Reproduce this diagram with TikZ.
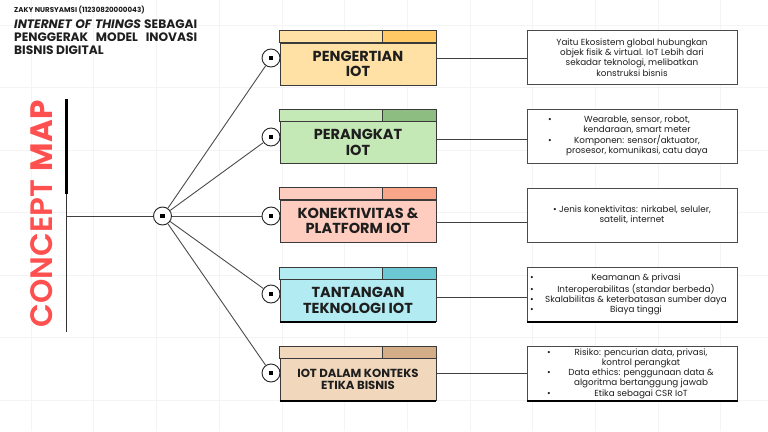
\documentclass[tikz,border=0pt]{standalone}
\usepackage{fontspec}
\setmainfont{Poppins}
\newfontfamily\popsemi{Poppins SemiBold}
\usetikzlibrary{calc}
\definecolor{redc}{HTML}{FF5050}
\definecolor{txt}{HTML}{1E1E1E}
\definecolor{boxline}{HTML}{3A3A3A}
\definecolor{descline}{HTML}{4A4A4A}
\definecolor{gridc}{HTML}{F4F4F4}
\definecolor{fa}{HTML}{FFE1A6}\definecolor{sa}{HTML}{FFC966}
\definecolor{fb}{HTML}{C5E8B7}\definecolor{sb}{HTML}{8DBD80}
\definecolor{fc}{HTML}{FFCDBF}\definecolor{sc}{HTML}{F9A58A}
\definecolor{fd}{HTML}{B2EBF2}\definecolor{sd}{HTML}{6CC8D2}
\definecolor{fe}{HTML}{F1D8BC}\definecolor{se}{HTML}{D3AD88}
\newcommand\mystrip[3]{%
  \draw[draw=boxline, line width=0.9pt, fill=#2] (#1.north west) rectangle ([xshift=103pt,yshift=12pt]#1.north west);
  \draw[draw=boxline, line width=0.9pt, fill=#3] ([xshift=103pt]#1.north west) rectangle ([yshift=12pt]#1.north east);}
\newcommand\lineb[4]{\makebox[#1pt]{#2}\makebox[#3pt]{#4}}
\begin{document}
\begin{tikzpicture}[x=1pt,y=-1pt,
  dot/.style={circle, draw=black!85, line width=0.9pt, fill=white, minimum size=18pt, inner sep=0pt,
    path picture={\fill[black] ([xshift=-2.3pt,yshift=-2.3pt]path picture bounding box.center) rectangle ([xshift=2.3pt,yshift=2.3pt]path picture bounding box.center);}},
  mainbox/.style={draw=boxline, line width=0.9pt, minimum width=156pt, minimum height=42pt, inner sep=0pt, align=center, font=\fontsize{14.5}{15.5}\selectfont\bfseries, text=txt},
  desc/.style={draw=descline, line width=1pt, fill=white, minimum width=210pt, minimum height=54pt, inner sep=0pt, align=center, font=\fontsize{8.8}{10.3}\selectfont, text=txt},
  conn/.style={draw=black!75, line width=0.8pt},
  branch/.style={draw=black!70, line width=0.9pt}]
\useasboundingbox (0,0) rectangle (768,431);
\fill[white] (0,0) rectangle (768,431);
% faint grid
\foreach \i in {0,...,11} {\draw[gridc, line width=0.6pt] ({31+62.7*\i},0) -- ({31+62.7*\i},431);}
\foreach \j in {0,...,6} {\draw[gridc, line width=0.6pt] (0,{25+62.5*\j}) -- (768,{25+62.5*\j});}

% titles
\node[anchor=west, inner sep=0pt, text=txt, font=\fontsize{7.1}{8}\selectfont\bfseries] (auth) at (14,10) {ZAKY NURSYAMSI (11230820000043)};
\node[anchor=north west, inner sep=0pt, align=left, text=txt, font=\fontsize{12.2}{12.7}\selectfont\bfseries] (ttl) at (14,20)
  {\makebox[183pt][s]{\textit{INTERNET OF THINGS} SEBAGAI}\\
   \makebox[183pt][s]{PENGGERAK MODEL INOVASI}\\
   BISNIS DIGITAL};

% concept map label
\node[rotate=90, inner sep=0pt, text=redc, font=\fontsize{31}{31}\selectfont] (cm) at (41.5,214)
  {{\popsemi CONCEPT} \bfseries MAP};

% spine
\coordinate (vtop) at (66.5,99);
\coordinate (vmid) at (66.5,194);
\coordinate (vbot) at (66.5,332);
\coordinate (hj) at (66.5,216);
\draw[black, line width=3pt] (vtop) -- (vmid);
\draw[black!80, line width=0.9pt] (vmid) -- (vbot);

% central dot
\node[dot] (c0) at (162.5,216) {};
\draw[conn] (hj) -- (c0);

% branch dots
\node[dot] (k1) at (271,58) {};
\node[dot] (k2) at (271,137) {};
\node[dot] (k3) at (271,216) {};
\node[dot] (k4) at (271,294) {};
\node[dot] (k5) at (271,373) {};
\foreach \k in {k1,k2,k3,k4,k5} {\draw[branch] (c0) -- (\k);}

% topic boxes
\node[mainbox, fill=fa] (m1) at (358,64) {PENGERTIAN\\IOT};
\node[mainbox, fill=fb] (m2) at (358,142.5) {PERANGKAT\\IOT};
\node[mainbox, fill=fc] (m3) at (358,221) {KONEKTIVITAS \&\\PLATFORM IOT};
\node[mainbox, fill=fd] (m4) at (358,300.5) {TANTANGAN\\TEKNOLOGI IOT};
\node[mainbox, fill=fe, font=\fontsize{11.7}{11.8}\selectfont\bfseries] (m5) at (358,379.5) {IOT DALAM KONTEKS\\ETIKA BISNIS};
\mystrip{m1}{fa}{sa}
\mystrip{m2}{fb}{sb}
\mystrip{m3}{fc}{sc}
\mystrip{m4}{fd}{sd}
\mystrip{m5}{fe}{se}
\draw[black, line width=1.8pt] (m4.south west) -- (m4.south east);
\draw[black, line width=1.8pt] (m5.south west) -- (m5.south east);

% description boxes
\node[desc] (d1) at (632,57.5) {Yaitu Ekosistem global hubungkan\\objek fisik \& virtual. IoT Lebih dari\\sekadar teknologi, melibatkan\\konstruksi bisnis};
\node[desc] (d2) at (632,136) {\lineb{10}{•}{164}{Wearable, sensor, robot,}\\
  \lineb{10}{}{164}{kendaraan, smart meter}\\
  \lineb{10}{•}{164}{Komponen: sensor/aktuator,}\\
  \lineb{10}{}{164}{prosesor, komunikasi, catu daya}};
\node[desc] (d3) at (632,215) {\raisebox{-2pt}{\parbox{200pt}{\centering • Jenis konektivitas: nirkabel, seluler,\\satelit, internet}}};
\node[desc] (d4) at (632,294.5) {\lineb{8}{•}{200}{Keamanan \& privasi}\\
  \lineb{8}{•}{200}{Interoperabilitas (standar berbeda)}\\
  \lineb{8}{•}{200}{Skalabilitas \& keterbatasan sumber daya}\\
  \lineb{8}{•}{200}{Biaya tinggi}};
\node[desc] (d5) at (632,373.5) {\lineb{18}{•}{166}{Risiko: pencurian data, privasi,}\\
  \lineb{18}{}{166}{kontrol perangkat}\\
  \lineb{18}{•}{166}{Data ethics: penggunaan data \&}\\
  \lineb{18}{}{166}{algoritma bertanggung jawab}\\
  \lineb{18}{•}{166}{Etika sebagai CSR IoT}};
\draw[black, line width=1.8pt] (d4.south west) -- (d4.south east);
\draw[black, line width=1.8pt] (d5.south west) -- (d5.south east);

% connectors topic -> description
\draw[conn] ([yshift=6pt]m1.east) -- ([yshift=6pt]m1.east -| d1.west);
\draw[conn] ([yshift=3.5pt]m2.east) -- ([yshift=3.5pt]m2.east -| d2.west);
\draw[conn] ([yshift=-1pt]m3.east) -- ([yshift=-1pt]m3.east -| d3.west);
\draw[conn] ([yshift=3.5pt]m4.east) -- ([yshift=3.5pt]m4.east -| d4.west);
\draw[conn] ([yshift=6.5pt]m5.east) -- ([yshift=6.5pt]m5.east -| d5.west);
\end{tikzpicture}
\end{document}
